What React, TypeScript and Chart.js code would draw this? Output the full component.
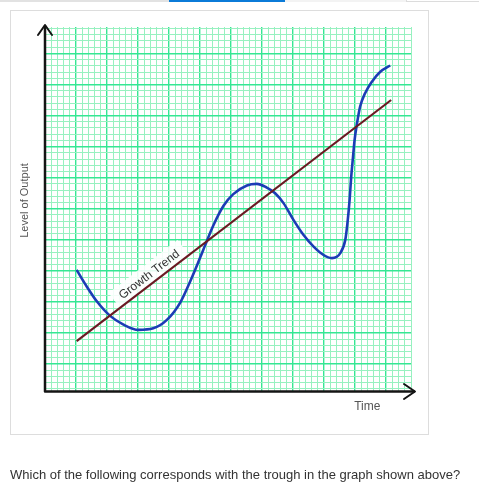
import React, { useEffect, useRef } from 'react';
import { Chart, registerables } from 'chart.js';

Chart.register(...registerables);

// ---- data (grid units: one major square = 1) ----
const cycleX = [1.02, 1.35, 1.67, 2.1, 2.53, 3.01, 3.49, 3.93, 4.36, 4.68, 4.95, 5.16, 5.43, 5.75, 6.07, 6.51, 6.83, 7.15, 7.42, 7.69, 8.01, 8.33, 8.66, 8.98, 9.25, 9.52, 9.68, 9.75, 9.82, 9.87, 9.93, 9.98, 10.06, 10.16, 10.32, 10.54, 10.81, 11.13];
const cycleY = [3.03, 2.49, 2.02, 1.55, 1.27, 1.1, 1.15, 1.42, 1.98, 2.66, 3.3, 3.82, 4.47, 5.09, 5.47, 5.75, 5.8, 5.68, 5.5, 5.18, 4.64, 4.16, 3.78, 3.51, 3.41, 3.57, 3.99, 4.53, 5.28, 6.0, 6.66, 7.2, 7.75, 8.29, 8.72, 9.09, 9.41, 9.61];
const trendX = [1.02, 11.16];
const trendY = [0.74, 8.5];
const xRange = [0, 11.8];
const yRange = [-0.9, 10.85];
const gridStep = 0.2;
const trendLabelAt = 3.53;
const yTitle = 'Level of Output';
const xTitle = 'Time';
const trendLabel = 'Growth Trend';
const question = 'Which of the following corresponds with the trough in the graph shown above?';

const FONT = '"Liberation Sans", Arial, Helvetica, sans-serif';
const MAJOR = '#35e793';
const MINOR = '#97f1c0';

function gridTicks(min: number, max: number, step: number) {
  const out: { value: number }[] = [];
  const start = Math.ceil(min / step - 1e-6);
  for (let i = start; i * step <= max + 1e-6; i++) {
    out.push({ value: +(i * step).toFixed(4) });
  }
  return out;
}

function isMajor(v: number | undefined) {
  if (v === undefined) return false;
  return Math.abs(v - Math.round(v)) < 1e-3;
}

const decor = {
  id: 'decor',
  beforeDatasetsDraw(chart: any) {
    const { ctx, scales } = chart;
    const xs = scales.x, ys = scales.y;
    const x1 = xs.getPixelForValue(trendX[0]), y1 = ys.getPixelForValue(trendY[0]);
    const x2 = xs.getPixelForValue(trendX[1]), y2 = ys.getPixelForValue(trendY[1]);
    const a = Math.atan2(y2 - y1, x2 - x1);
    const t = (trendLabelAt - trendX[0]) / (trendX[1] - trendX[0]);
    const px = x1 + (x2 - x1) * t, py = y1 + (y2 - y1) * t;
    const cx = px + 8.3 * Math.sin(a), cy = py - 8.3 * Math.cos(a);
    ctx.save();
    ctx.font = `12px ${FONT}`;
    const w = ctx.measureText(trendLabel).width;
    ctx.translate(cx, cy);
    ctx.rotate(a);
    ctx.fillStyle = 'rgba(255,255,255,0.88)';
    ctx.fillRect(-w / 2 - 7, -10.5, w + 14, 18.5);
    ctx.restore();
    chart.$labelPos = { cx, cy, a };
  },
  afterDatasetsDraw(chart: any) {
    const { ctx, chartArea } = chart;
    const { left, right, top, bottom } = chartArea;
    ctx.save();
    // trend label text
    const lp = chart.$labelPos;
    if (lp) {
      ctx.save();
      ctx.translate(lp.cx, lp.cy);
      ctx.rotate(lp.a);
      ctx.font = `12px ${FONT}`;
      ctx.fillStyle = '#333';
      ctx.textAlign = 'center';
      ctx.textBaseline = 'middle';
      ctx.fillText(trendLabel, 0, 0);
      ctx.restore();
    }
    // axes
    ctx.strokeStyle = '#141414';
    ctx.lineWidth = 2.5;
    ctx.lineCap = 'round';
    ctx.lineJoin = 'round';
    ctx.beginPath();
    ctx.moveTo(left, bottom - 0.5);
    ctx.lineTo(left, top - 1);
    ctx.moveTo(left, bottom - 0.5);
    ctx.lineTo(right + 3, bottom - 0.5);
    ctx.stroke();
    ctx.lineWidth = 2;
    ctx.beginPath();
    ctx.moveTo(left - 7, top + 8);
    ctx.lineTo(left, top - 2);
    ctx.lineTo(left + 7, top + 8);
    ctx.moveTo(right - 7, bottom - 8);
    ctx.lineTo(right + 4, bottom - 0.5);
    ctx.lineTo(right - 7, bottom + 7);
    ctx.stroke();
    // titles
    ctx.fillStyle = '#555';
    ctx.font = `12px ${FONT}`;
    ctx.textAlign = 'center';
    ctx.textBaseline = 'alphabetic';
    ctx.fillText(xTitle, right - 43.7, bottom + 17.5);
    ctx.save();
    ctx.translate(left - 17, 200.5);
    ctx.rotate(-Math.PI / 2);
    ctx.font = `11px ${FONT}`;
    ctx.fillText(yTitle, 0, 0);
    ctx.restore();
    ctx.restore();
  },
};

function makeScale(range: number[]) {
  return {
    type: 'linear' as const,
    min: range[0],
    max: range[1],
    afterBuildTicks: (scale: any) => {
      scale.ticks = gridTicks(range[0], range[1], gridStep);
    },
    ticks: { display: false, autoSkip: false },
    border: { display: false },
    grid: {
      drawTicks: false,
      color: (c: any) => (isMajor(c.tick?.value) ? MAJOR : MINOR),
      lineWidth: (c: any) => (isMajor(c.tick?.value) ? 1.4 : 1),
    },
  };
}

function GraphChart() {
  const ref = useRef<HTMLCanvasElement | null>(null);
  useEffect(() => {
    if (!ref.current) return;
    const chart = new Chart(ref.current, {
      type: 'line',
      data: {
        datasets: [
          {
            label: trendLabel,
            data: trendX.map((x, i) => ({ x, y: trendY[i] })),
            borderColor: '#6a1a22',
            borderWidth: 2.2,
            pointRadius: 0,
            tension: 0,
          },
          {
            label: 'Output',
            data: cycleX.map((x, i) => ({ x, y: cycleY[i] })),
            borderColor: '#1c3cb6',
            borderWidth: 2.6,
            pointRadius: 0,
            cubicInterpolationMode: 'monotone',
          },
        ],
      },
      options: {
        animation: false,
        responsive: false,
        events: [],
        layout: { padding: { left: 45, top: 27, right: 68, bottom: 110 } },
        plugins: { legend: { display: false }, tooltip: { enabled: false } },
        scales: { x: makeScale(xRange), y: makeScale(yRange) },
      },
      plugins: [decor],
    } as any);
    return () => chart.destroy();
  }, []);
  return <canvas ref={ref} width={479} height={502} style={{ position: 'absolute', left: 0, top: 0, width: 479, height: 502 }} />;
}

export default function App() {
  useEffect(() => {
    document.body.style.margin = '0';
    document.body.style.overflow = 'hidden';
  }, []);
  return (
    <div style={{ position: 'absolute', left: 0, top: 0, width: 479, height: 502, background: '#fff', overflow: 'hidden', fontFamily: FONT }}>
      <div style={{ position: 'absolute', left: 0, top: 0, width: 169, height: 2, background: '#e2e2e2' }} />
      <div style={{ position: 'absolute', left: 169, top: 0, width: 116, height: 2, background: '#0b7bd8' }} />
      <div style={{ position: 'absolute', left: 285, top: 0, width: 121, height: 2, background: '#f3f3f3' }} />
      <div style={{ position: 'absolute', left: 406, top: 0, width: 73, height: 1, borderLeft: '1px solid #dcdcdc', borderBottom: '1px solid #dcdcdc' }} />
      <div style={{ position: 'absolute', left: 10, top: 10, width: 419, height: 425, boxSizing: 'border-box', border: '1px solid #dddddd' }} />
      <GraphChart />
      <div style={{ position: 'absolute', left: 10, top: 467, fontSize: 13, lineHeight: '15px', color: '#333', whiteSpace: 'nowrap' }}>{question}</div>
    </div>
  );
}
